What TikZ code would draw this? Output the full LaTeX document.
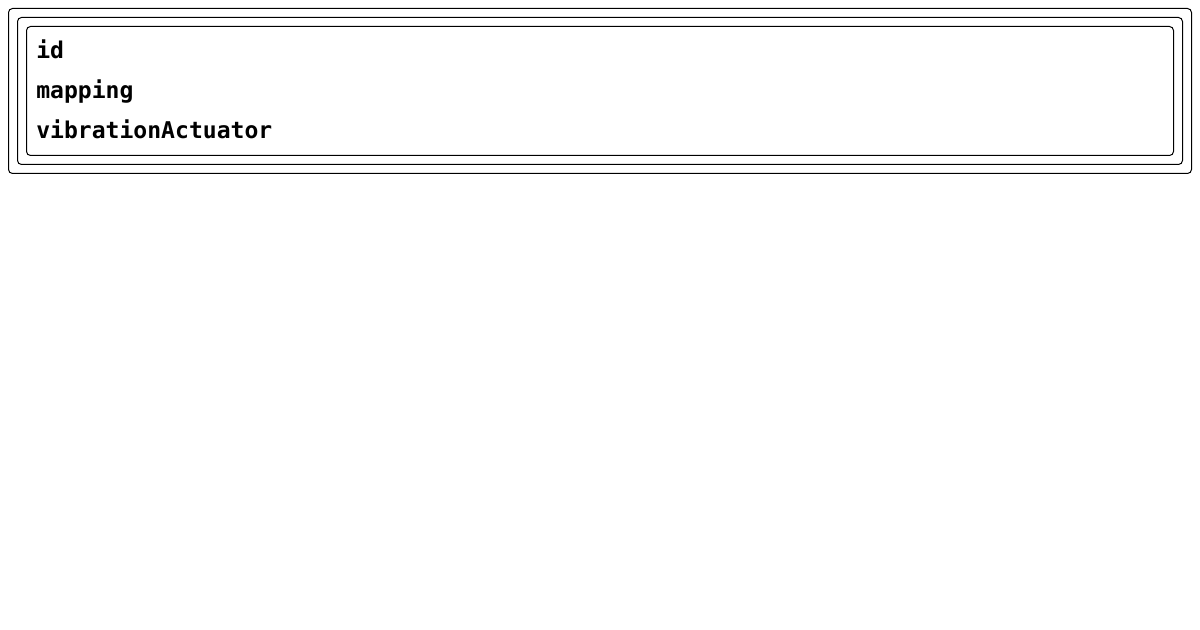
\documentclass[tikz,border=0pt]{standalone}
\usepackage{fontspec}
\newfontfamily\codefont{DejaVu Sans Mono}
\begin{document}
\begin{tikzpicture}[x=0.75pt,y=-0.75pt,
  frame/.style={draw=black,line width=0.75pt,rounded corners=3pt},
  field/.style={anchor=base west,inner sep=0pt,font=\codefont\bfseries\fontsize{17.3}{20}\selectfont}]
\useasboundingbox (0,0) rectangle (1200,630);
\draw[frame] (8.5,8.5) rectangle (1191.5,173.5);
\draw[frame] (17.5,17.5) rectangle (1182.5,164.5);
\draw[frame] (26.5,26.5) rectangle (1173.5,155.5);
\node[field] (id) at (36,59) {id};
\node[field] (mapping) at (36,99) {mapping};
\node[field] (vib) at (36,139) {vibrationActuator};
\end{tikzpicture}
\end{document}
